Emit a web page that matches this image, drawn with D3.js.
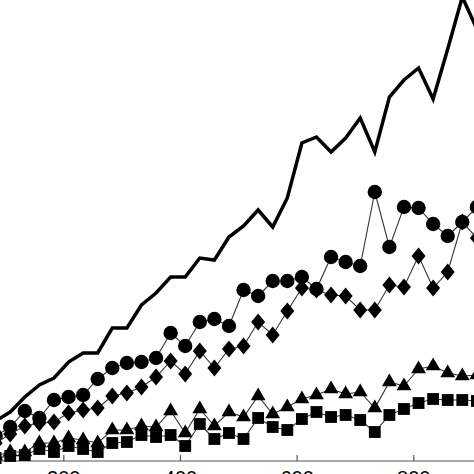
<!DOCTYPE html>
<meta charset="utf-8">
<style>
  html, body { margin: 0; padding: 0; background: #fff; overflow: hidden; }
  svg { display: block; }
</style>
<body>
<svg width="474" height="474"></svg>
<script src="https://cdn.jsdelivr.net/npm/d3@7/dist/d3.min.js"></script>
<script>

// x positions of the samples (first and last fall just off the visible area)
var xVals = [84, 109, 134, 159, 184, 209, 234, 259, 284, 309, 334, 359, 384, 409, 434, 459, 484,
             509, 534, 559, 584, 609, 634, 659, 684, 709, 734, 759, 784, 809, 834, 859, 884, 909];

var xTicks = [200, 400, 600, 800];

// thick solid line, no markers
var solidVals = [4.0, 4.9, 6.4, 7.6, 8.3, 9.9, 10.8, 10.8, 13.3, 13.3, 15.6, 16.8, 18.4, 18.4, 20.3, 20.1, 22.4,
                 23.5, 25.1, 23.4, 26.3, 31.8, 32.4, 30.9, 32.3, 34.3, 30.9, 36.4, 38.1, 39.3, 36.2, 41.2, 46.4, 43.2];

var circleVals = [2.5, 3.4, 5.0, 4.3, 6.1, 6.4, 6.6, 8.2, 9.3, 9.8, 9.9, 10.3, 12.8, 11.5, 13.9, 14.2, 13.5,
                  17.1, 16.5, 18.0, 18.0, 18.4, 17.2, 20.4, 19.9, 19.5, 26.9, 21.4, 25.4, 25.3, 23.7, 22.5, 23.9, 25.4];

var diamondVals = [1.8, 2.7, 3.5, 3.8, 3.9, 4.8, 5.1, 5.3, 6.5, 6.8, 7.4, 8.4, 10.0, 8.7, 11.0, 9.3, 11.2,
                   11.5, 13.9, 12.6, 15.0, 17.3, 17.1, 16.6, 16.5, 15.1, 15.1, 17.6, 17.4, 20.5, 17.3, 18.9, 23.9, 22.3];

var triangleVals = [0.5, 0.9, 0.9, 1.8, 1.8, 2.3, 2.1, 1.8, 3.1, 3.1, 3.5, 3.4, 5.0, 2.8, 5.2, 3.5, 4.9,
                    4.4, 6.5, 4.7, 5.4, 6.2, 6.6, 7.2, 6.7, 6.9, 5.3, 7.9, 7.5, 9.2, 9.5, 8.8, 8.5, 8.6];

var squareVals = [0.3, 0.5, 0.6, 1.2, 0.9, 1.5, 1.2, 0.9, 1.8, 1.9, 2.6, 2.4, 2.6, 1.5, 3.7, 2.2, 2.8,
                  2.2, 4.3, 3.4, 3.1, 4.2, 4.9, 4.4, 4.6, 4.1, 2.9, 4.6, 5.2, 5.8, 6.2, 6.1, 6.1, 6.0];

var W = 474, H = 474;
var axisY = 461;

var svg = d3.select("svg");

var x = d3.scaleLinear().domain([200, 800]).range([63.3, 413.3]);
var y = d3.scaleLinear().domain([0, 46.1]).range([axisY, 0]);

// taller-than-wide diamond
var diamondType = {
  draw: function(ctx, size) {
    var w = Math.sqrt(size) * 0.5, h = w * 1.2;
    ctx.moveTo(0, -h);
    ctx.lineTo(w, 0);
    ctx.lineTo(0, h);
    ctx.lineTo(-w, 0);
    ctx.closePath();
  }
};

var series = [
  { vals: squareVals,   type: d3.symbolSquare,   size: 140 },
  { vals: triangleVals, type: d3.symbolTriangle, size: 96 },
  { vals: circleVals,   type: d3.symbolCircle,   size: 163 },
  { vals: diamondVals,  type: diamondType,       size: 196 }
];

var line = d3.line()
  .x(function(d) { return x(d[0]); })
  .y(function(d) { return y(d[1]); });

// axis
var xAxis = d3.axisBottom(x)
  .tickValues(xTicks)
  .tickSizeInner(-6)
  .tickSizeOuter(0)
  .tickPadding(10)
  .tickFormat(d3.format("d"));

var axisG = svg.append("g")
  .attr("transform", "translate(0," + axisY + ")")
  .call(xAxis);
axisG.select(".domain").remove();
axisG.append("line")
  .attr("x1", 0).attr("x2", W)
  .attr("y1", 0).attr("y2", 0)
  .attr("stroke", "#555")
  .attr("stroke-width", 1.2);
axisG.selectAll(".tick line").attr("stroke", "#555").attr("stroke-width", 1.2);
axisG.selectAll(".tick text")
  .attr("fill", "#000")
  .style("font-family", "Liberation Sans, Arial, sans-serif")
  .style("font-size", "20px");

var plot = svg.append("g");

series.forEach(function(s) {
  var pts = xVals.map(function(xv, i) { return [xv, s.vals[i]]; });
  var g = plot.append("g");
  g.append("path")
    .attr("d", line(pts))
    .attr("fill", "none")
    .attr("stroke", "#333")
    .attr("stroke-width", 1.1);
  g.selectAll("path.mk")
    .data(pts)
    .enter().append("path")
    .attr("class", "mk")
    .attr("d", d3.symbol().type(s.type).size(s.size))
    .attr("transform", function(d) { return "translate(" + x(d[0]) + "," + y(d[1]) + ")"; })
    .attr("fill", "#000");
});

plot.append("path")
  .attr("d", line(xVals.map(function(xv, i) { return [xv, solidVals[i]]; })))
  .attr("fill", "none")
  .attr("stroke", "#000")
  .attr("stroke-width", 3.5)
  .attr("stroke-linejoin", "miter");

</script>
</body>
